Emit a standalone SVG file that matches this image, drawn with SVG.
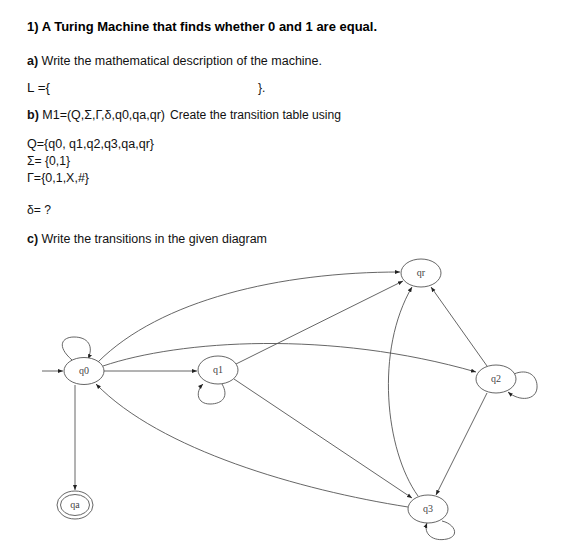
<svg xmlns="http://www.w3.org/2000/svg" width="567" height="551" viewBox="0 0 567 551">
<style>
.t{font-family:"Liberation Sans",Arial,sans-serif;font-size:12px;fill:#111}
.b{font-weight:bold}
.title{font-family:"Liberation Sans",Arial,sans-serif;font-size:12.5px;font-weight:bold;fill:#000}
.n{fill:#fff;stroke:#555;stroke-width:0.9}
.lb{font-family:"Liberation Serif","Times New Roman",serif;font-size:10px;fill:#444;text-anchor:middle}
.e{fill:none;stroke:#555;stroke-width:0.9}
</style>
<defs>
<marker id="ah" viewBox="0 0 10 10" refX="10" refY="5" markerWidth="5" markerHeight="5" orient="auto" markerUnits="userSpaceOnUse">
<path d="M0,1 L10,5 L0,9 z" fill="#222"/>
</marker>
</defs>
<rect width="567" height="551" fill="#fff"/>
<g id="text">
<text class="title" x="27" y="31" textLength="350" lengthAdjust="spacingAndGlyphs">1) A Turing Machine that finds whether 0 and 1 are equal.</text>
<text class="t" x="27" y="65" textLength="295" lengthAdjust="spacingAndGlyphs"><tspan class="b">a)</tspan> Write the mathematical description of the machine.</text>
<text class="t" x="27" y="92" textLength="23" lengthAdjust="spacingAndGlyphs">L ={</text>
<text class="t" x="258" y="92">}.</text>
<text class="t" x="27" y="119" textLength="138" lengthAdjust="spacingAndGlyphs"><tspan class="b">b)</tspan> M1=(Q,Σ,Γ,δ,q0,qa,qr)</text>
<text class="t" x="170" y="119" textLength="171" lengthAdjust="spacingAndGlyphs">Create the transition table using</text>
<text class="t" x="27" y="148" textLength="127" lengthAdjust="spacingAndGlyphs">Q={q0, q1,q2,q3,qa,qr}</text>
<text class="t" x="27" y="165" textLength="43" lengthAdjust="spacingAndGlyphs">Σ= {0,1}</text>
<text class="t" x="27" y="182" textLength="62" lengthAdjust="spacingAndGlyphs">Γ={0,1,X,#}</text>
<text class="t" x="27" y="214" textLength="24" lengthAdjust="spacingAndGlyphs">δ= ?</text>
<text class="t" x="27" y="243" textLength="240" lengthAdjust="spacingAndGlyphs"><tspan class="b">c)</tspan> Write the transitions in the given diagram</text>
</g>
<g id="connectors">
<path class="e" d="M42,371 L63,371" marker-end="url(#ah)"/>
<path class="e" d="M72,360 C56,346 62,337 74,337 C88,337 94,346 88,359" marker-end="url(#ah)"/>
<path class="e" d="M104,371 L197,371" marker-end="url(#ah)"/>
<path class="e" d="M98,362 C160,300 280,272 400,272" marker-end="url(#ah)"/>
<path class="e" d="M103,366 C180,340 330,330 476,372" marker-end="url(#ah)"/>
<path class="e" d="M75,385 L75,490" marker-end="url(#ah)"/>
<path class="e" d="M408,507 C300,490 160,450 96,384" marker-end="url(#ah)"/>
<path class="e" d="M222,384 C229,396 223,404 210,404 C197,404 195,392 203,384" marker-end="url(#ah)"/>
<path class="e" d="M236,364 L403,281" marker-end="url(#ah)"/>
<path class="e" d="M234,379 L412,498" marker-end="url(#ah)"/>
<path class="e" d="M418,496 C385,450 375,350 412,287" marker-end="url(#ah)"/>
<path class="e" d="M487,366 L431,287" marker-end="url(#ah)"/>
<path class="e" d="M514,374 C528,368 538,376 537,388 C536,400 520,402 508,392" marker-end="url(#ah)"/>
<path class="e" d="M487,393 L436,495" marker-end="url(#ah)"/>
<path class="e" d="M442,521 C455,524 460,536 447,539 C433,542 423,534 427,523" marker-end="url(#ah)"/>
</g>
<g id="q0"><ellipse class="n" cx="84" cy="371" rx="20" ry="13.5"/><text class="lb" x="84" y="374">q0</text></g>
<g id="q1"><ellipse class="n" cx="218" cy="370" rx="20" ry="14"/><text class="lb" x="218" y="373">q1</text></g>
<g id="qr"><ellipse class="n" cx="421" cy="273" rx="20" ry="14"/><text class="lb" x="421" y="276">qr</text></g>
<g id="q2"><ellipse class="n" cx="496" cy="379" rx="20" ry="14"/><text class="lb" x="496" y="382">q2</text></g>
<g id="q3"><ellipse class="n" cx="428" cy="509" rx="20" ry="14"/><text class="lb" x="428" y="512">q3</text></g>
<g id="qa"><ellipse class="n" cx="75" cy="505" rx="18" ry="14"/><ellipse class="n" cx="75" cy="505" rx="14.5" ry="10.5"/><text class="lb" x="75" y="508">qa</text></g>
</svg>
